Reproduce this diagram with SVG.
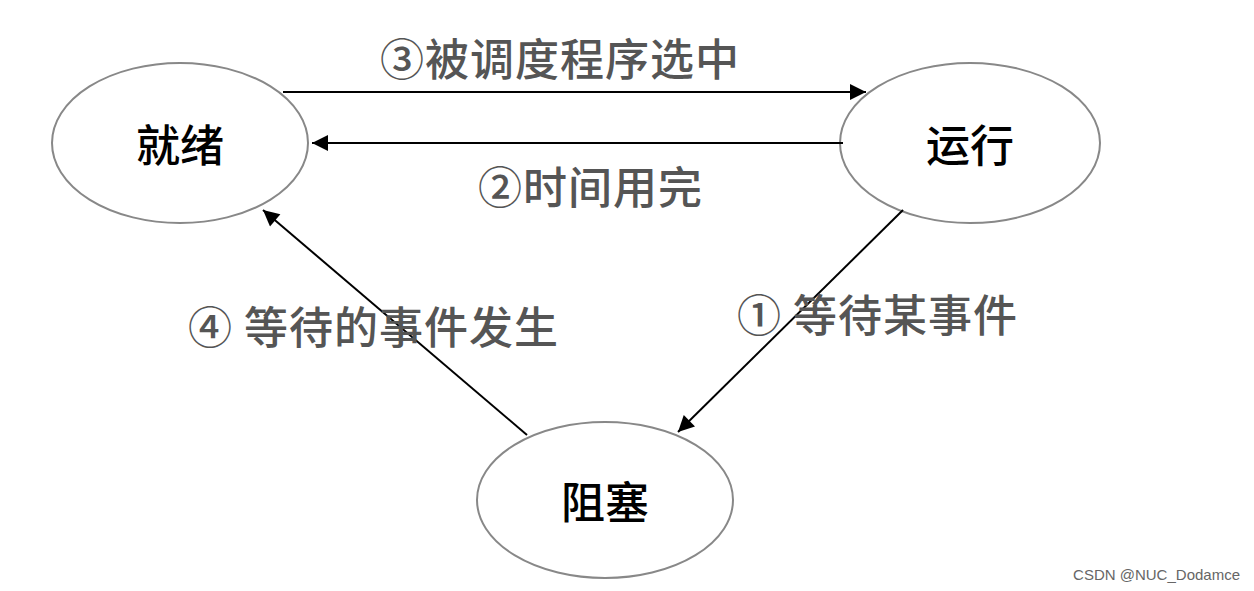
<svg xmlns="http://www.w3.org/2000/svg" width="1254" height="591" viewBox="0 0 1254 591">
<style>
.n{fill:#fff;stroke:#888;stroke-width:2}
.t{font-family:"Noto Sans CJK SC",sans-serif;font-size:44px;fill:#000;text-anchor:middle;dominant-baseline:central;font-weight:500}
.l{font-family:"Noto Sans CJK SC",sans-serif;font-size:44px;fill:#555;font-weight:500;letter-spacing:1px}
.e{stroke:#000;stroke-width:2;fill:none;marker-end:url(#a)}
</style>
<defs><marker id="a" viewBox="0 0 10 10" refX="10" refY="5" markerWidth="26" markerHeight="16" markerUnits="userSpaceOnUse" orient="auto"><path d="M0,0L10,5L0,10z" fill="#000"/></marker></defs>
<rect width="1254" height="591" fill="#fff"/>
<g id="ready"><ellipse class="n" cx="180" cy="143" rx="128" ry="80"/><text class="t" x="180" y="143">就绪</text></g>
<g id="running"><ellipse class="n" cx="970" cy="143" rx="130" ry="80"/><text class="t" x="970" y="143">运行</text></g>
<g id="blocked"><ellipse class="n" cx="605" cy="500" rx="128" ry="78"/><text class="t" x="605" y="500">阻塞</text></g>
<g id="edges">
<line class="e" x1="283" y1="92" x2="866" y2="92"/>
<line class="e" x1="843" y1="143" x2="312" y2="143"/>
<line class="e" x1="903" y1="210" x2="678" y2="432"/>
<line class="e" x1="527" y1="435" x2="263" y2="210"/>
</g>
<text class="l" x="380" y="76">③被调度程序选中</text>
<text class="l" x="478" y="204">②时间用完</text>
<text class="l" x="737" y="332">① 等待某事件</text>
<text class="l" x="188" y="344">④ 等待的事件发生</text>
<text x="1240" y="580" text-anchor="end" font-family="Liberation Sans,sans-serif" font-size="15" fill="#666">CSDN @NUC_Dodamce</text>
</svg>
